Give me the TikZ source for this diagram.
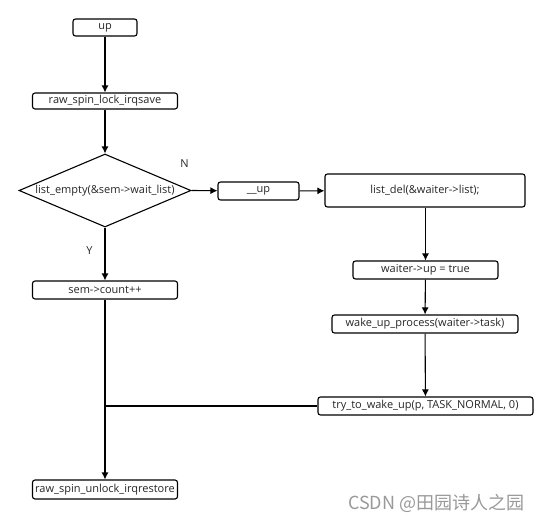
\documentclass[tikz,border=0pt]{standalone}
\usepackage{fontspec}
\setmainfont{Open Sans}
\newfontfamily\cjk{Noto Sans CJK SC}
\usetikzlibrary{shapes.geometric,arrows.meta}
\begin{document}
\begin{tikzpicture}[x=1pt,y=-1pt,
  box/.style={draw, rounded corners=2.5pt, line width=1.1pt, inner sep=0pt, font=\fontsize{11}{12}\selectfont, text=black!85},
  arr/.style={line width=1.1pt, -{Latex[length=7pt,width=7pt]}},
  lbl/.style={font=\fontsize{11}{12}\selectfont, text=black!85}]
\useasboundingbox (0,0) rectangle (552,523);
\node[box, minimum width=64pt, minimum height=17pt] (up) at (105,27.5) {up};
\node[box, minimum width=145pt, minimum height=16pt] (lock) at (105,101) {raw\_spin\_lock\_irqsave};
\node[draw, diamond, line width=1.1pt, minimum width=172pt, minimum height=73pt, inner sep=0pt] (dec) at (105,190.5) {};
\node[lbl] (dect) at (105,190.5) {list\_empty(\&sem->wait\_list)};
\node[box, minimum width=81pt, minimum height=18pt] (uu) at (258.5,191) {\_\_up};
\node[box, minimum width=200pt, minimum height=33pt] (del) at (425,190.5) {list\_del(\&waiter->list);};
\node[box, minimum width=145pt, minimum height=18pt] (wup) at (425.5,270) {waiter->up = true};
\node[box, minimum width=186pt, minimum height=18pt] (wproc) at (425,324) {wake\_up\_process(waiter->task)};
\node[box, minimum width=215pt, minimum height=18pt] (try) at (425.5,406) {try\_to\_wake\_up(p, TASK\_NORMAL, 0)};
\node[box, minimum width=145pt, minimum height=18pt] (cnt) at (105,290) {sem->count++};
\node[box, minimum width=145pt, minimum height=19pt] (unl) at (105,489.5) {raw\_spin\_unlock\_irqrestore};
\node[lbl] (n) at (184.5,164) {N};
\node[lbl] (y) at (89.5,251) {Y};
\node[font=\fontsize{18}{20}\selectfont, text=black!40, anchor=west, inner sep=0pt] (wm) at (348,503) {\cjk CSDN @田园诗人之园};
\draw[arr] (up) -- (lock);
\draw[arr] (lock) -- (dec.north);
\draw[arr] (dec.east) -- (uu);
\draw[arr] (uu) -- (del);
\draw[arr] (del.south -| wup.north) -- (wup);
\draw[arr] (wup) -- (wproc);
\draw[arr] (wproc) -- (try);
\draw[arr] (dec.south) -- (cnt);
\draw[arr] (cnt) -- (unl);
\coordinate (j) at (cnt.south |- try.west);
\draw[line width=1.1pt] (try.west) -- (j);
\end{tikzpicture}
\end{document}
